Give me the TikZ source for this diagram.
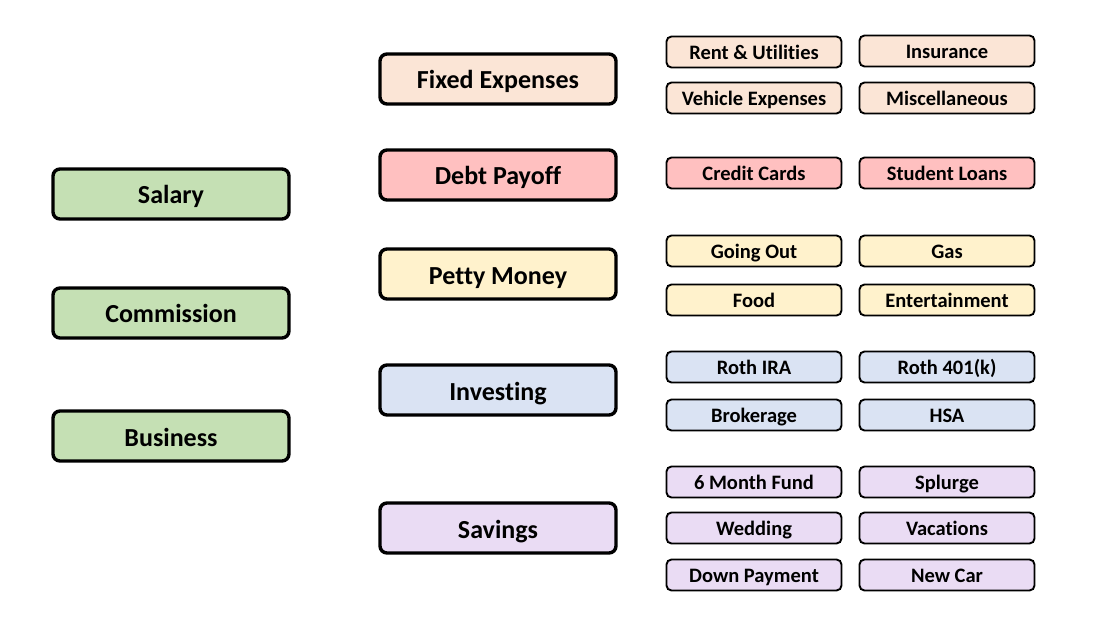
\documentclass[tikz,border=0pt]{standalone}
\usepackage{fontspec}
\setmainfont[Ligatures=CommonOff]{Carlito}
\definecolor{cgreen}{HTML}{C5E0B4}
\definecolor{cfixed}{HTML}{FBE5D6}
\definecolor{cdebt}{HTML}{FFC0C0}
\definecolor{cpetty}{HTML}{FFF2CC}
\definecolor{cinv}{HTML}{DAE3F3}
\definecolor{csav}{HTML}{EADCF4}
\begin{document}
\begin{tikzpicture}[x=1pt,y=-1pt,
  big/.style={draw=black,line width=3.4pt,rounded corners=7pt,minimum width=236pt,minimum height=50pt,inner sep=0pt,text height=24pt,text depth=4pt,font=\fontsize{26}{30}\selectfont\bfseries},
  small/.style={draw=black,line width=1.9pt,rounded corners=5pt,minimum width=175pt,minimum height=31pt,inner sep=0pt,text height=18pt,text depth=3pt,font=\fontsize{20.5}{24}\selectfont\bfseries}]
\useasboundingbox (0,0) rectangle (1093,631);
% income
\node[big,fill=cgreen] (salary) at (171,194) {Salary};
\node[big,fill=cgreen] (comm) at (171,313) {Commission};
\node[big,fill=cgreen] (bus) at (171,436) {Business};
% categories
\node[big,fill=cfixed] (fixed) at (498,79) {Fixed Expenses};
\node[big,fill=cdebt] (debt) at (498,175) {Debt Payoff};
\node[big,fill=cpetty] (petty) at (498,274) {Petty Money};
\node[big,fill=cinv] (inv) at (498,390) {Investing};
\node[big,fill=csav] (sav) at (498,528) {Savings};
% items
\node[small,fill=cfixed] (rent) at (754,52) {Rent \& Utilities};
\node[small,fill=cfixed] (ins) at (947,51) {Insurance};
\node[small,fill=cfixed] (veh) at (754,98) {Vehicle Expenses};
\node[small,fill=cfixed] (misc) at (947,98) {Miscellaneous};
\node[small,fill=cdebt] (cc) at (754,173) {Credit Cards};
\node[small,fill=cdebt] (sl) at (947,173) {Student Loans};
\node[small,fill=cpetty] (go) at (754,251) {Going Out};
\node[small,fill=cpetty] (gas) at (947,251) {Gas};
\node[small,fill=cpetty] (food) at (754,300) {Food};
\node[small,fill=cpetty] (ent) at (947,300) {Entertainment};
\node[small,fill=cinv] (roth) at (754,367) {Roth IRA};
\node[small,fill=cinv] (r401) at (947,367) {Roth 401(k)};
\node[small,fill=cinv] (brok) at (754,415) {Brokerage};
\node[small,fill=cinv] (hsa) at (947,415) {HSA};
\node[small,fill=csav] (six) at (754,482) {6 Month Fund};
\node[small,fill=csav] (spl) at (947,482) {Splurge};
\node[small,fill=csav] (wed) at (754,528) {Wedding};
\node[small,fill=csav] (vac) at (947,528) {Vacations};
\node[small,fill=csav] (down) at (754,575) {Down Payment};
\node[small,fill=csav] (car) at (947,575) {New Car};
\end{tikzpicture}
\end{document}
